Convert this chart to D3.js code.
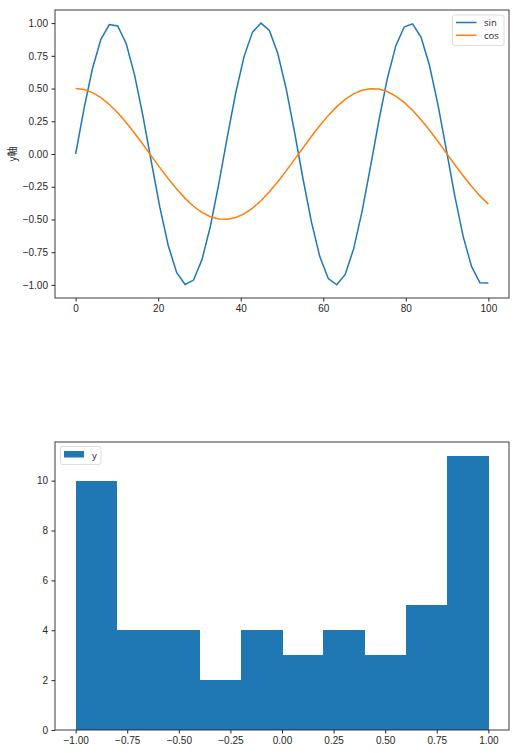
<!DOCTYPE html>
<html>
<head>
<meta charset="utf-8">
<script src="https://cdn.jsdelivr.net/npm/d3@7"></script>
<style>
  body { margin: 0; background: #fff; }
  svg { font-family: "Open Sans", "Noto Sans CJK JP", sans-serif; }
  .tick text { font-size: 10px; fill: #262626; }
  .tick line { stroke: #262626; }
  .domain { display: none; }
</style>
</head>
<body>
<svg id="chart" width="519" height="753"></svg>
<script>
// x positions of the samples (0..100, 50 points)
var xs = [0, 2.04, 4.08, 6.12, 8.16, 10.2, 12.24, 14.29, 16.33, 18.37,
    20.41, 22.45, 24.49, 26.53, 28.57, 30.61, 32.65, 34.69, 36.73, 38.78,
    40.82, 42.86, 44.9, 46.94, 48.98, 51.02, 53.06, 55.1, 57.14, 59.18,
    61.22, 63.27, 65.31, 67.35, 69.39, 71.43, 73.47, 75.51, 77.55, 79.59,
    81.63, 83.67, 85.71, 87.76, 89.8, 91.84, 93.88, 95.92, 97.96, 100];

var sinValues = [0, 0.349, 0.653, 0.876, 0.989, 0.978, 0.844, 0.603, 0.287, -0.065,
    -0.408, -0.701, -0.906, -0.997, -0.963, -0.807, -0.552, -0.227, 0.127, 0.466,
    0.746, 0.931, 1.0, 0.943, 0.768, 0.497, 0.163, -0.191, -0.521, -0.786,
    -0.952, -0.999, -0.92, -0.725, -0.44, -0.099, 0.254, 0.575, 0.824, 0.97,
    0.994, 0.893, 0.68, 0.381, 0.035, -0.316, -0.627, -0.859, -0.984, -0.985];

var cosValues = [0.5, 0.492, 0.469, 0.43, 0.378, 0.315, 0.241, 0.159, 0.073, -0.016,
    -0.104, -0.189, -0.268, -0.339, -0.399, -0.446, -0.479, -0.497, -0.499, -0.485,
    -0.457, -0.413, -0.357, -0.289, -0.212, -0.129, -0.041, 0.048, 0.135, 0.218,
    0.295, 0.362, 0.417, 0.459, 0.487, 0.499, 0.496, 0.477, 0.442, 0.394,
    0.334, 0.262, 0.183, 0.097, 0.009, -0.08, -0.166, -0.247, -0.32, -0.383];

// histogram of the sin values: 10 bins from -1 to 1
var binEdges = [-1, -0.8, -0.6, -0.4, -0.2, 0, 0.2, 0.4, 0.6, 0.8, 1];
var binCounts = [10, 4, 4, 2, 4, 3, 4, 3, 5, 11];

var lineXTicks = [0, 20, 40, 60, 80, 100];
var lineYTicks = [-1, -0.75, -0.5, -0.25, 0, 0.25, 0.5, 0.75, 1];
var histXTicks = [-1, -0.75, -0.5, -0.25, 0, 0.25, 0.5, 0.75, 1];
var histYTicks = [0, 2, 4, 6, 8, 10];

var blue = "#1f77b4", orange = "#ff7f0e";
var svg = d3.select("#chart");

var minusFmt = function(d) { return d3.format(".2f")(d).replace("-", "\u2212"); };

/**
 * Top panel: sin / cos lines
 */
var top1 = {left: 55, right: 509, top: 10, bottom: 298};

var x1 = d3.scaleLinear().domain([-5, 105]).range([top1.left, top1.right]);
var y1 = d3.scaleLinear().domain([-1.1, 1.1]).range([top1.bottom, top1.top]);

svg.append("g")
    .attr("transform", "translate(0," + top1.bottom + ")")
    .call(d3.axisBottom(x1).tickValues(lineXTicks).tickSize(3.5).tickPadding(3.5)
        .tickFormat(d3.format("d")));

svg.append("g")
    .attr("transform", "translate(" + top1.left + ",0)")
    .call(d3.axisLeft(y1).tickValues(lineYTicks).tickSize(3.5).tickPadding(3.5)
        .tickFormat(minusFmt));

var line = d3.line()
    .x(function(d) { return x1(d[0]); })
    .y(function(d) { return y1(d[1]); });

svg.append("path")
    .datum(d3.zip(xs, sinValues))
    .attr("d", line)
    .attr("fill", "none")
    .attr("stroke", blue)
    .attr("stroke-width", 1.5);

svg.append("path")
    .datum(d3.zip(xs, cosValues))
    .attr("d", line)
    .attr("fill", "none")
    .attr("stroke", orange)
    .attr("stroke-width", 1.5);

svg.append("rect")
    .attr("x", top1.left).attr("y", top1.top)
    .attr("width", top1.right - top1.left).attr("height", top1.bottom - top1.top)
    .attr("fill", "none").attr("stroke", "#262626").attr("stroke-width", 0.9);

svg.append("text")
    .attr("transform", "translate(16," + y1(0) + ") rotate(-90)")
    .attr("text-anchor", "middle")
    .attr("font-size", 10)
    .attr("fill", "#262626")
    .text("y軸");

// legend
var legend1 = svg.append("g");
legend1.append("rect")
    .attr("x", 452.5).attr("y", 15).attr("width", 51.5).attr("height", 30.5)
    .attr("rx", 2).attr("fill", "#fff").attr("fill-opacity", 0.8)
    .attr("stroke", "#d9d9d9").attr("stroke-width", 0.9);

[["sin", blue], ["cos", orange]].forEach(function(s, i) {
    var yy = 22.5 + i * 12.8;
    legend1.append("line")
        .attr("x1", 456).attr("x2", 476.5).attr("y1", yy).attr("y2", yy)
        .attr("stroke", s[1]).attr("stroke-width", 1.5);
    legend1.append("text")
        .attr("x", 484).attr("y", yy + 3.3)
        .attr("font-size", 9.5).attr("fill", "#262626")
        .text(s[0]);
});

/**
 * Bottom panel: histogram
 */
var bot = {left: 55, right: 509, top: 442, bottom: 730};

var x2 = d3.scaleLinear().domain([-1.1, 1.1]).range([bot.left, bot.right]);
var y2 = d3.scaleLinear().domain([0, 11.55]).range([bot.bottom, bot.top]);

svg.append("g")
    .attr("shape-rendering", "crispEdges")
    .selectAll("rect")
    .data(binCounts)
    .enter()
    .append("rect")
    .attr("x", function(d, i) { return x2(binEdges[i]); })
    .attr("width", function(d, i) { return x2(binEdges[i + 1]) - x2(binEdges[i]) + 0.5; })
    .attr("y", function(d) { return y2(d); })
    .attr("height", function(d) { return y2(0) - y2(d); })
    .attr("fill", blue);

svg.append("g")
    .attr("transform", "translate(0," + bot.bottom + ")")
    .call(d3.axisBottom(x2).tickValues(histXTicks).tickSize(3.5).tickPadding(3.5)
        .tickFormat(minusFmt));

svg.append("g")
    .attr("transform", "translate(" + bot.left + ",0)")
    .call(d3.axisLeft(y2).tickValues(histYTicks).tickSize(3.5).tickPadding(3.5)
        .tickFormat(d3.format("d")));

svg.append("rect")
    .attr("x", bot.left).attr("y", bot.top)
    .attr("width", bot.right - bot.left).attr("height", bot.bottom - bot.top)
    .attr("fill", "none").attr("stroke", "#262626").attr("stroke-width", 0.9);

var legend2 = svg.append("g");
legend2.append("rect")
    .attr("x", 60.5).attr("y", 446.5).attr("width", 40.5).attr("height", 18)
    .attr("rx", 2).attr("fill", "#fff").attr("fill-opacity", 0.8)
    .attr("stroke", "#d9d9d9").attr("stroke-width", 0.9);
legend2.append("rect")
    .attr("x", 64).attr("y", 451).attr("width", 20).attr("height", 6.5)
    .attr("fill", blue);
legend2.append("text")
    .attr("x", 92).attr("y", 459)
    .attr("font-size", 9.5).attr("fill", "#262626")
    .text("y");
</script>
</body>
</html>
